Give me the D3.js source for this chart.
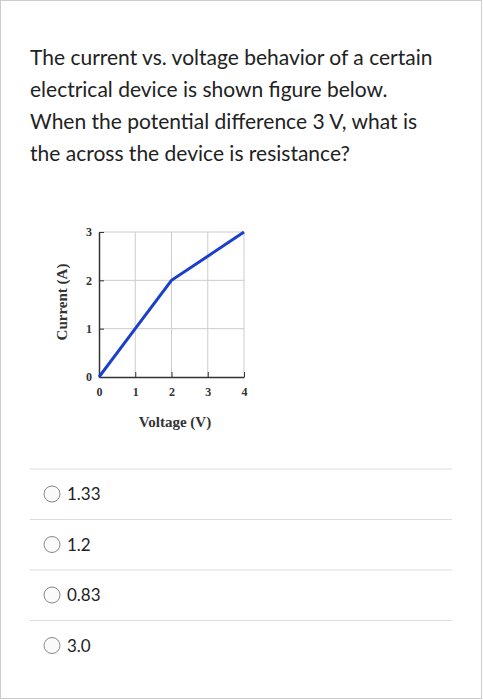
<!DOCTYPE html>
<html><head><meta charset="utf-8">
<script src="https://cdn.jsdelivr.net/npm/d3@7"></script>
<style>
body{margin:0;background:#fff}
</style></head><body>
<svg id="c" width="483" height="700"></svg>
<script>
const voltage = [0, 1, 2, 3, 4]
const current = [0, 1, 2, 2.5, 3]
const xTicks = [0, 1, 2, 3, 4]
const yTicks = [0, 1, 2, 3]
const question = [
	'The current vs. voltage behavior of a certain',
	'electrical device is shown figure below.',
	'When the potential difference 3 V, what is',
	'the across the device is resistance?'
]
const options = ['1.33', '1.2', '0.83', '3.0']

const sans = 'Lato,"Open Sans",sans-serif'
const serif = '"Liberation Serif","DejaVu Serif",serif'
const svg = d3.select('#c')
svg.append('rect').attr('x', 0.5).attr('y', 0.5).attr('width', 481).attr('height', 698)
	.attr('fill', 'none').attr('stroke', '#ccc')

svg.selectAll('.q').data(question).enter().append('text')
	.attr('x', 30).attr('y', (d, i) => 65 + i * 32)
	.style('font-family', sans).attr('font-size', 21).attr('fill', '#222').text(d => d)

const x = d3.scaleLinear().domain([0, 4]).range([99, 244])
const y = d3.scaleLinear().domain([0, 3]).range([377, 232])

const g = svg.append('g')
g.selectAll('.vg').data(xTicks.slice(1)).enter().append('line')
	.attr('x1', d => x(d)).attr('x2', d => x(d)).attr('y1', y(0)).attr('y2', y(3))
	.attr('stroke', '#ccc')
g.selectAll('.hg').data(yTicks.slice(1)).enter().append('line')
	.attr('x1', x(0)).attr('x2', x(4)).attr('y1', d => y(d)).attr('y2', d => y(d))
	.attr('stroke', '#ccc')

const styleAxis = a => {
	a.select('.domain').attr('stroke', '#333').attr('stroke-width', 1.5)
	a.selectAll('line').attr('stroke', '#333')
	a.selectAll('text').style('font-family', serif).attr('font-weight', 'bold').attr('font-size', 12).attr('fill', '#333')
}
g.append('g').attr('transform', `translate(0,${y(0)})`)
	.call(d3.axisBottom(x).tickValues(xTicks).tickFormat(d3.format('d')).tickSize(-5).tickPadding(10).tickSizeOuter(0))
	.call(styleAxis)
g.append('g').attr('transform', `translate(${x(0)},0)`)
	.call(d3.axisLeft(y).tickValues(yTicks).tickFormat(d3.format('d')).tickSize(-5).tickPadding(7).tickSizeOuter(0))
	.call(styleAxis)

g.append('path').datum(voltage.map((v, i) => [v, current[i]]))
	.attr('d', d3.line().x(d => x(d[0])).y(d => y(d[1])))
	.attr('fill', 'none').attr('stroke', '#1a3fcc').attr('stroke-width', 3)

g.append('text').attr('x', 175).attr('y', 427).attr('text-anchor', 'middle')
	.style('font-family', serif).attr('font-weight', 'bold').attr('font-size', 15).attr('fill', '#333')
	.text('Voltage (V)')
g.append('text').attr('transform', 'translate(67,302) rotate(-90)').attr('text-anchor', 'middle')
	.style('font-family', serif).attr('font-weight', 'bold').attr('font-size', 15).attr('fill', '#333')
	.text('Current (A)')

const opt = svg.selectAll('.opt').data(options).enter().append('g')
	.attr('transform', (d, i) => `translate(0,${469 + i * 50.5})`)
opt.append('line').attr('x1', 30).attr('x2', 452).attr('y1', 0).attr('y2', 0).attr('stroke', '#ddd')
opt.append('circle').attr('cx', 52).attr('cy', 25).attr('r', 8).attr('fill', '#fafafa').attr('stroke', '#888')
opt.append('text').attr('x', 67).attr('y', 31).style('font-family', sans).attr('font-size', 17).attr('fill', '#222').text(d => d)
</script></body></html>
